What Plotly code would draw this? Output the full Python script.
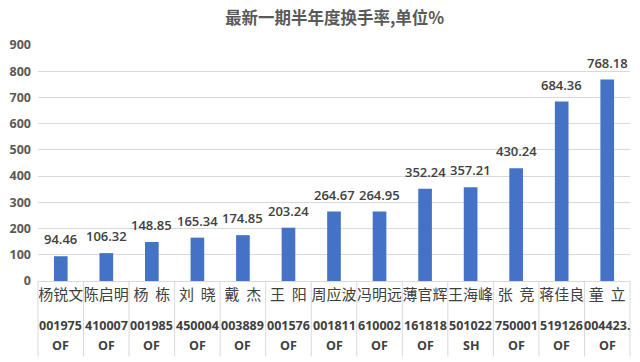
import plotly.graph_objects as go

SP = "\u00a0\u00a0"
names = ["杨锐文", "陈启明", "杨" + SP + "栋", "刘" + SP + "晓", "戴" + SP + "杰", "王" + SP + "阳", "周应波",
         "冯明远", "薄官辉", "王海峰", "张" + SP + "竞", "蒋佳良", "童" + SP + "立"]
codes = ["001975", "410007", "001985", "450004", "003889", "001576", "001811",
         "610002", "161818", "501022", "750001", "519126", "004423."]
suffixes = ["OF", "OF", "OF", "OF", "OF", "OF", "OF", "OF", "OF", "SH", "OF", "OF", "OF"]
values = [94.46, 106.32, 148.85, 165.34, 174.85, 203.24, 264.67,
          264.95, 352.24, 357.21, 430.24, 684.36, 768.18]
y_ticks = [0, 100, 200, 300, 400, 500, 600, 700, 800, 900]

title = "最新一期半年度换手率,单位%"
bar_color = "#4472C4"
text_color = "#404040"
grid_color = "#d9d9d9"
num_font = "Open Sans"
cjk_font = "Noto Sans CJK SC"

xs = list(range(len(names)))
n = len(names)

fig = go.Figure()
fig.add_trace(go.Bar(x=xs, y=values, marker=dict(color=bar_color, line=dict(width=0)),
                     hoverinfo="skip"))

annotations = []
for x, v in zip(xs, values):
    annotations.append(dict(x=x, y=v, xref="x", yref="y", text=f"{v:.2f}", showarrow=False,
                            yanchor="bottom", yshift=6,
                            font=dict(family=num_font, size=13, color=text_color, weight=600)))
for x, c, s in zip(xs, codes, suffixes):
    annotations.append(dict(x=x, y=0, xref="x", yref="paper", text=c, showarrow=False,
                            yanchor="middle", yshift=-44,
                            font=dict(family=num_font, size=12.5, color=text_color, weight=700)))
    annotations.append(dict(x=x, y=0, xref="x", yref="paper", text=s, showarrow=False,
                            yanchor="middle", yshift=-64,
                            font=dict(family=num_font, size=12.5, color=text_color, weight=700)))
annotations.append(dict(x=0.5, y=1, xref="paper", yref="paper", yanchor="bottom", yshift=14,
                        text=title, showarrow=False, xanchor="center",
                        font=dict(family=cjk_font, size=16.5, color="#595959", weight=700),
                        ))

shapes = []
for k in range(n + 1):
    shapes.append(dict(type="line", xref="paper", yref="paper", x0=k / n, x1=k / n,
                       y0=0, y1=-0.32, line=dict(color=grid_color, width=1)))

fig.update_layout(
    width=640, height=362,
    margin=dict(l=38, r=10, t=45, b=81),
    paper_bgcolor="white", plot_bgcolor="white",
    showlegend=False,
    bargap=0.70,
    annotations=annotations,
    shapes=shapes,
    xaxis=dict(tickmode="array", tickvals=xs, ticktext=names, range=[-0.5, n - 0.5],
               showgrid=False, showline=True, linecolor=grid_color, linewidth=1,
               ticks="", tickangle=0, automargin=False,
               tickfont=dict(family=cjk_font, size=15, color=text_color),
               fixedrange=True),
    yaxis=dict(range=[0, 900], tickvals=y_ticks, showgrid=True, gridcolor=grid_color,
               gridwidth=1, zeroline=False, showline=False, ticks="",
               tickfont=dict(family=num_font, size=12.5, color="#595959", weight=700),
               ticklabelstandoff=6, fixedrange=True, automargin=False),
)

fig.write_html("out.html")
